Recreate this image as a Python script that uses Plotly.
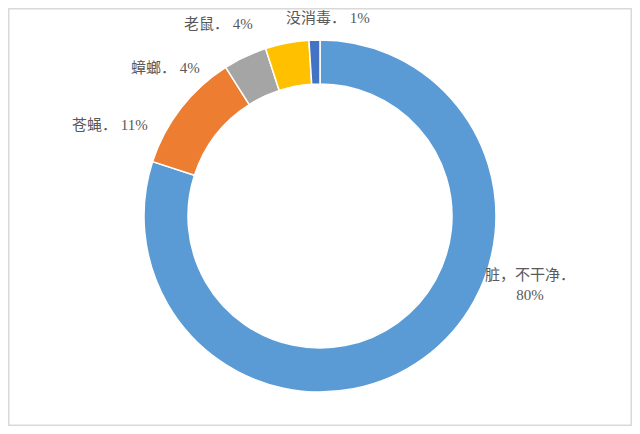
import plotly.graph_objects as go

# 数据
labels = ["脏，不干净", "苍蝇", "蟑螂", "老鼠", "没消毒"]
values = [80, 11, 4, 4, 1]
colors = ["#5B9BD5", "#ED7D31", "#A5A5A5", "#FFC000", "#4472C4"]

# 标签文字 (label. value%)
label_texts = [f"{l}． {v}%" for l, v in zip(labels, values)]
label_texts[0] = f"{labels[0]}．<br>{values[0]}%"

# 标签位置 (像素, 左上角为原点)
label_pos = [(530, 285), (110, 125), (165, 68), (218, 24), (328, 18)]

OFF = 8  # page body margin offset
W, H = 640 - 2 * OFF, 434 - 2 * OFF
cx, cy, r = 320 - OFF, 216 - OFF, 176

fig = go.Figure(
    go.Pie(
        labels=labels,
        values=values,
        hole=0.75,
        sort=False,
        direction="clockwise",
        rotation=0,
        marker=dict(colors=colors, line=dict(color="white", width=1.5)),
        textinfo="none",
        hoverinfo="label+percent",
        showlegend=False,
        domain=dict(
            x=[(cx - r) / W, (cx + r) / W],
            y=[(H - cy - r) / H, (H - cy + r) / H],
        ),
    )
)

for txt, (px_, py_) in zip(label_texts, label_pos):
    fig.add_annotation(
        x=(px_ - OFF) / W, y=1 - (py_ - OFF) / H, xref="paper", yref="paper",
        text=txt, showarrow=False, xanchor="center", yanchor="middle",
        font=dict(size=15, color="#595959"),
    )

# 外框
fig.add_shape(
    type="rect", xref="paper", yref="paper", x0=0, y0=0, x1=1, y1=1,
    line=dict(color="#D9D9D9", width=3),
)

fig.update_layout(
    width=W,
    height=H,
    margin=dict(l=0, r=0, t=0, b=0),
    paper_bgcolor="white",
    plot_bgcolor="white",
    font=dict(family="Liberation Serif, Noto Sans CJK SC, serif"),
)

fig.write_html("out.html")
